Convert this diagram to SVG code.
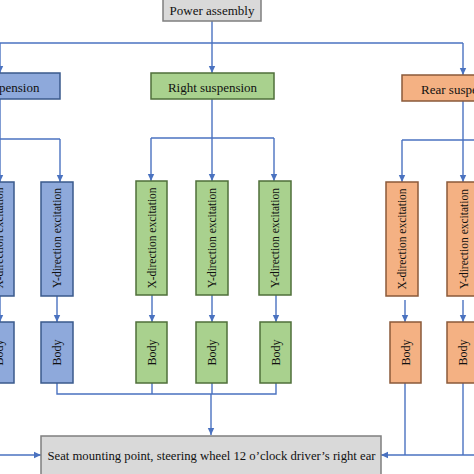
<svg xmlns="http://www.w3.org/2000/svg" width="474" height="474" viewBox="0 0 474 474">
<style>
text{font-family:"Liberation Serif","Times New Roman",serif;fill:#111;text-anchor:middle;dominant-baseline:central}
.g{fill:#D9D9D9;stroke:#7F7F7F;stroke-width:1.5}
.b{fill:#8EA9DB;stroke:#3A5A8C;stroke-width:1.5}
.gr{fill:#A9D18E;stroke:#4F6F3A;stroke-width:1.5}
.o{fill:#F4B183;stroke:#8A5A3A;stroke-width:1.5}
.c{fill:none;stroke:#4A72C0;stroke-width:1.4}
.a{marker-end:url(#ah)}
.l{font-size:13px}
.v{font-size:11.5px}
.bd{font-size:12px}
</style>
<defs>
<marker id="ah" markerUnits="userSpaceOnUse" markerWidth="8" markerHeight="8" viewBox="0 0 8 8" refX="7" refY="4" orient="auto">
<path d="M0,0.8 L7,4 L0,7.2 Z" fill="#4A72C0"/>
</marker>
</defs>
<rect width="474" height="474" fill="#fff"/>
<g id="connectors">
<path class="c a" d="M212,21 V73"/>
<path class="c" d="M0,43 H463"/>
<path class="c a" d="M0,43 V73"/>
<path class="c a" d="M463,43 V75"/>
<path class="c" d="M0,139 H60"/>
<path class="c a" d="M0,99 V182"/>
<path class="c a" d="M60,139 V182"/>
<path class="c" d="M151,138 H274"/>
<path class="c a" d="M212,99 V181"/>
<path class="c a" d="M151,138 V181"/>
<path class="c a" d="M274,138 V181"/>
<path class="c" d="M402,140 H474"/>
<path class="c a" d="M463,101 V182"/>
<path class="c a" d="M402,140 V182"/>
<path class="c a" d="M0,296 V322"/>
<path class="c a" d="M57,296 V322"/>
<path class="c a" d="M152,295 V322"/>
<path class="c a" d="M212,295 V322"/>
<path class="c a" d="M276,295 V322"/>
<path class="c a" d="M405,300 V322"/>
<path class="c a" d="M463,300 V322"/>
<path class="c" d="M57,383 V394 H276 V383"/>
<path class="c" d="M152,383 V394"/>
<path class="c" d="M212,383 V394"/>
<path class="c a" d="M211,394 V435"/>
<path class="c a" d="M0,455 H41"/>
<path class="c" d="M405,383 V455"/>
<path class="c" d="M463,383 V455"/>
<path class="c a" d="M474,455 H381"/>
</g>
<g id="power"><rect class="g" x="163" y="-5" width="98" height="26"/><text class="l" x="212" y="10">Power assembly</text></g>
<g id="left-susp"><rect class="b" x="-63" y="73" width="123" height="26"/><text class="l" x="-1.5" y="87">Left suspension</text></g>
<g id="right-susp"><rect class="gr" x="151" y="73" width="123" height="26"/><text class="l" x="212.5" y="87">Right suspension</text></g>
<g id="rear-susp"><rect class="o" x="402" y="75" width="123" height="26"/><text class="l" x="463.5" y="89">Rear suspension</text></g>
<g id="left-x"><rect class="b" x="-17" y="182" width="31" height="114"/><text class="v" transform="translate(-1.5,238) rotate(-90)">X-direction excitation</text></g>
<g id="left-y"><rect class="b" x="41" y="182" width="32" height="114"/><text class="v" transform="translate(57,238) rotate(-90)">Y-direction excitation</text></g>
<g id="right-x"><rect class="gr" x="136" y="181" width="31" height="114"/><text class="v" transform="translate(151.5,238) rotate(-90)">X-direction excitation</text></g>
<g id="right-y"><rect class="gr" x="196" y="181" width="32" height="114"/><text class="v" transform="translate(212,238) rotate(-90)">Y-direction excitation</text></g>
<g id="right-z"><rect class="gr" x="259" y="181" width="32" height="114"/><text class="v" transform="translate(275,238) rotate(-90)">Y-direction excitation</text></g>
<g id="rear-x"><rect class="o" x="386" y="182" width="32" height="114"/><text class="v" transform="translate(402,239) rotate(-90)">X-direction excitation</text></g>
<g id="rear-y"><rect class="o" x="447" y="182" width="33" height="114"/><text class="v" transform="translate(463.5,239) rotate(-90)">Y-direction excitation</text></g>
<g id="body-l1"><rect class="b" x="-17" y="322" width="31" height="61"/><text class="bd" transform="translate(-1.5,352.5) rotate(-90)">Body</text></g>
<g id="body-l2"><rect class="b" x="41" y="322" width="32" height="61"/><text class="bd" transform="translate(57,352.5) rotate(-90)">Body</text></g>
<g id="body-r1"><rect class="gr" x="136" y="322" width="31" height="61"/><text class="bd" transform="translate(151.5,352.5) rotate(-90)">Body</text></g>
<g id="body-r2"><rect class="gr" x="196" y="322" width="31" height="61"/><text class="bd" transform="translate(211.5,352.5) rotate(-90)">Body</text></g>
<g id="body-r3"><rect class="gr" x="260" y="322" width="31" height="61"/><text class="bd" transform="translate(275.5,352.5) rotate(-90)">Body</text></g>
<g id="body-o1"><rect class="o" x="390" y="322" width="31" height="61"/><text class="bd" transform="translate(405.5,352.5) rotate(-90)">Body</text></g>
<g id="body-o2"><rect class="o" x="447" y="322" width="31" height="61"/><text class="bd" transform="translate(462.5,352.5) rotate(-90)">Body</text></g>
<g id="target"><rect class="g" x="41" y="436" width="340" height="45"/><text class="l" x="211.5" y="455" textLength="328" lengthAdjust="spacingAndGlyphs">Seat mounting point, steering wheel 12 o’clock driver’s right ear</text></g>
</svg>
